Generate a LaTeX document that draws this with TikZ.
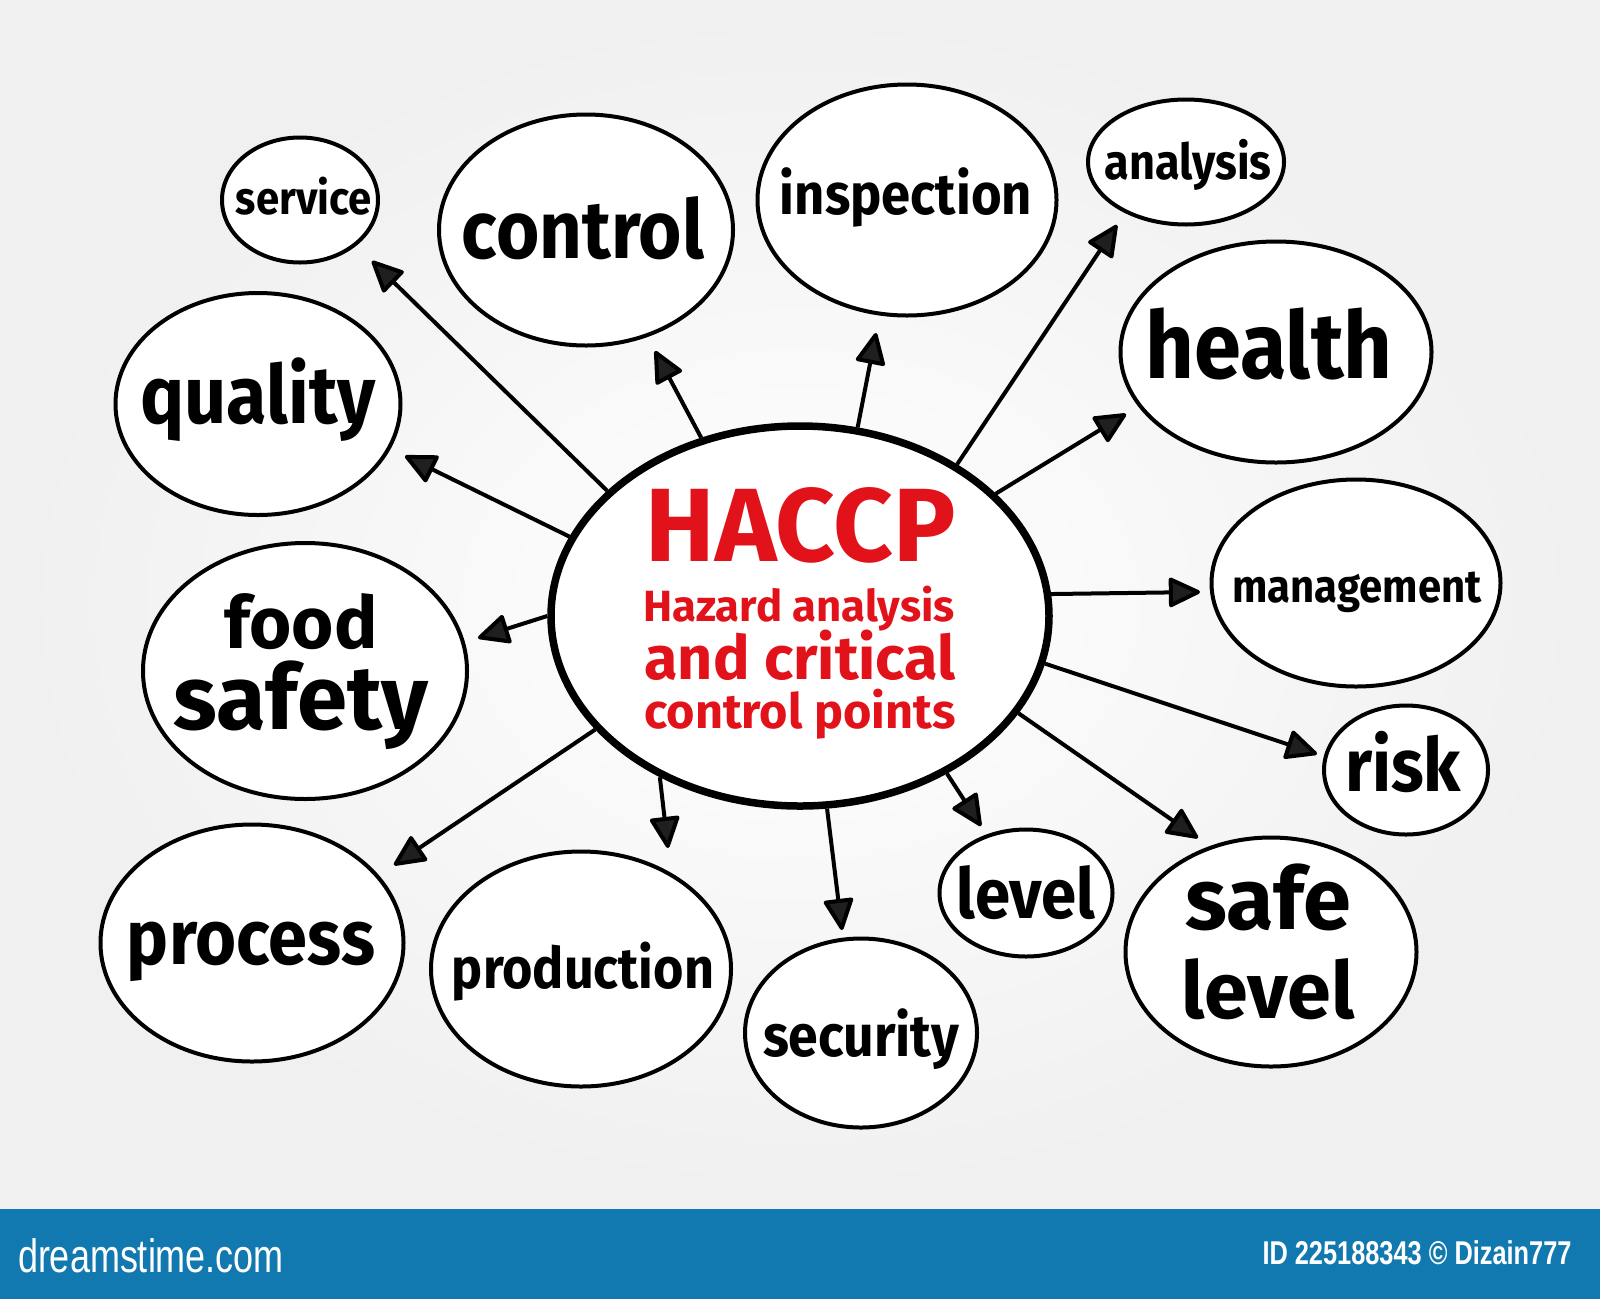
\documentclass[tikz,border=0pt]{standalone}
\usepackage{graphicx}
\usepackage{fontspec}
\setmainfont{Fira Sans}
\newfontfamily\barfont{Liberation Sans}
\usetikzlibrary{shapes.geometric,arrows.meta}
\definecolor{haccpred}{RGB}{226,18,26}
\definecolor{barblue}{RGB}{17,121,176}
\newcommand{\fitw}[3][1.1]{\resizebox{#2pt}{!}{\scalebox{1}[#1]{\bfseries #3}}}
\begin{document}
\begin{tikzpicture}[x=1pt,y=-1pt,
  bub/.style={ellipse, draw=black, line width=4pt, fill=white, inner sep=0pt},
  arr/.style={line width=4pt, -{Triangle[length=34pt,width=31pt,fill=black!88,round]}},
  lbl/.style={inner sep=0pt, anchor=base, text=black},
  redl/.style={inner sep=0pt, anchor=base, text=haccpred}]
\useasboundingbox (0,0) rectangle (1600,1299);
\shade[inner color=white, outer color=black!6] (0,0) rectangle (1600,1209);
\fill[barblue] (0,1209) rectangle (1600,1299);

% bubbles
\node[bub, line width=7.5pt, minimum width=498pt, minimum height=380pt] (hub) at (800,616) {};
\node[bub, minimum width=156pt, minimum height=125pt] (svc) at (300,200) {};
\node[bub, minimum width=294pt, minimum height=231pt] (ctl) at (586,230) {};
\node[bub, minimum width=299pt, minimum height=231pt] (ins) at (907,200) {};
\node[bub, minimum width=196pt, minimum height=125pt] (ana) at (1186,162) {};
\node[bub, minimum width=311pt, minimum height=221pt] (hea) at (1276,352) {};
\node[bub, minimum width=285pt, minimum height=222pt] (qua) at (258,404) {};
\node[bub, minimum width=289pt, minimum height=207pt] (man) at (1356,583) {};
\node[bub, minimum width=324pt, minimum height=256pt] (fsa) at (305,671) {};
\node[bub, minimum width=164pt, minimum height=129pt] (rsk) at (1406,770) {};
\node[bub, minimum width=303pt, minimum height=237pt] (pro) at (252,943) {};
\node[bub, minimum width=300pt, minimum height=235pt] (prd) at (581,969) {};
\node[bub, minimum width=232pt, minimum height=189pt] (sec) at (861,1033) {};
\node[bub, minimum width=173pt, minimum height=127pt] (lvl) at (1026,893) {};
\node[bub, minimum width=291pt, minimum height=229pt] (sfl) at (1271,952) {};

% labels
\node[lbl] (t-svc) at (304,214) {\fitw{136}{service}};
\node[lbl] (t-ctl) at (583,258) {\fitw{242}{control}};
\node[lbl] (t-ins) at (906,214) {\fitw{252}{inspection}};
\node[lbl] (t-ana) at (1188,179) {\fitw{167}{analysis}};
\node[lbl] (t-hea) at (1269,378) {\fitw{247}{health}};
\node[lbl] (t-qua) at (258,423) {\fitw{235}{quality}};
\node[lbl] (t-man) at (1357,602) {\fitw{249}{management}};
\node[lbl] (t-fsa1) at (301,648) {\fitw[1.0]{153}{food}};
\node[lbl] (t-fsa2) at (301,729) {\fitw[1.0]{255}{safety}};
\node[lbl] (t-rsk) at (1403,791) {\fitw{116}{risk}};
\node[lbl] (t-pro) at (251,964) {\fitw{248}{process}};
\node[lbl] (t-prd) at (583,988) {\fitw{262}{production}};
\node[lbl] (t-sec) at (861,1056) {\fitw{196}{security}};
\node[lbl] (t-lvl) at (1026,918) {\fitw{139}{level}};
\node[lbl] (t-sfl1) at (1268,929) {\fitw[1.0]{166}{safe}};
\node[lbl] (t-sfl2) at (1268,1018) {\fitw[1.0]{173}{level}};

\node[redl] (t-h1) at (801,561) {\fitw[1.0]{310}{HACCP}};
\node[redl] (t-h2) at (799,621) {\fitw[1.0]{311}{Hazard analysis}};
\node[redl] (t-h3) at (800,679) {\fitw[1.0]{311}{and critical}};
\node[redl] (t-h4) at (800,728) {\fitw[1.0]{311}{control points}};

% arrow tips
\coordinate (a-svc) at (372,261);
\coordinate (a-ctl) at (655,351);
\coordinate (a-ins) at (876,333);
\coordinate (a-ana) at (1117,225);
\coordinate (a-hea) at (1126,414);
\coordinate (a-qua) at (405,456);
\coordinate (a-man) at (1200,592);
\coordinate (a-fsa) at (478,638);
\coordinate (a-rsk) at (1317,754);
\coordinate (a-pro) at (394,865);
\coordinate (a-prd) at (668,848);
\coordinate (a-sec) at (842,930);
\coordinate (a-lvl) at (981,826);
\coordinate (a-sfl) at (1198,838);

\draw[arr] (hub.147.2) -- (a-svc);
\draw[arr] (hub.119.7) -- (a-ctl);
\draw[arr] (hub.73.5) -- (a-ins);
\draw[arr] (hub.44.3) -- (a-ana);
\draw[arr] (hub.32) -- (a-hea);
\draw[arr] (hub.161.3) -- (a-qua);
\draw[arr] (hub.5.9) -- (a-man);
\draw[arr] (hub.180.2) -- (a-fsa);
\draw[arr] (hub.349.4) -- (a-rsk);
\draw[arr] (hub.209.2) -- (a-pro);
\draw[arr] (hub.229.3) -- (a-prd);
\draw[arr] (hub.278.1) -- (a-sec);
\draw[arr] (hub.313.6) -- (a-lvl);
\draw[arr] (hub.336.6) -- (a-sfl);

% bottom bar
\node[inner sep=0pt, anchor=base, text=white] (brand) at (151,1272)
  {\resizebox{266pt}{!}{\scalebox{1}[1.3]{\barfont dreamstime.com}}};
\node[inner sep=0pt, anchor=base, text=white] (credit) at (1417,1264)
  {\resizebox{309pt}{!}{\scalebox{1}[1.3]{\barfont\bfseries ID 225188343 © Dizain777}}};
\end{tikzpicture}
\end{document}
